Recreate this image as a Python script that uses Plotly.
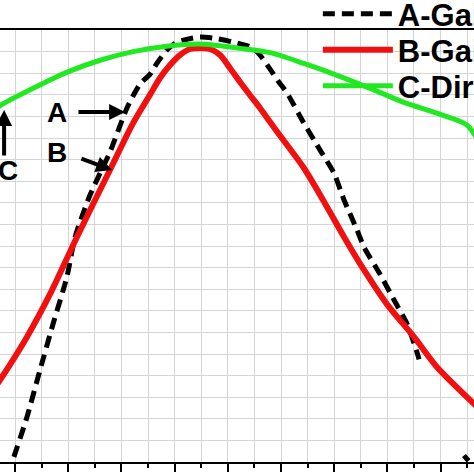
import plotly.graph_objects as go

# --- data (x: minor grid units, y: grid units) ---
# curve A fades out below ~y=5 on the right; only the last dash near the axis is visible
a_x = [-0.26, -0.08, 0.45, 0.94, 1.43, 1.95, 2.26, 2.82, 3.57, 4.21, 4.70, 5.08, 5.34, 5.71,
       6.09, 6.69, 6.95, 7.44, 8.20, 8.95, 9.21, 9.59, 9.89, 10.23, 10.86, 11.47, 11.99,
       12.37, 12.86, 13.12, 13.72, 14.25, 14.74, 15.11, 15.19, None, 16.88, 17.05]
a_y = [-0.60, 0.09, 2.08, 4.26, 6.39, 8.56, 10.42, 12.36, 14.35, 16.39, 17.50, 17.96, 18.47, 19.07,
       19.44, 19.63, 19.68, 19.63, 19.44, 19.17, 18.84, 18.19, 17.64, 17.08, 15.69, 14.44, 13.38,
       12.13, 10.74, 9.95, 8.70, 7.50, 6.39, 5.09, 4.75, None, 0.30, 0.05]

b_x = [-0.70, -0.56, 0.45, 1.32, 2.33, 3.57, 4.44, 5.08, 5.45, 5.83, 6.20, 6.58, 6.95, 7.33,
       7.71, 8.08, 8.46, 8.83, 9.21, 9.59, 9.89, 10.86, 11.73, 12.37, 13.12, 13.98, 15.00,
       15.86, 17.26, 17.86]
b_y = [3.55, 3.80, 5.79, 7.78, 10.42, 13.52, 15.69, 17.01, 17.78, 18.38, 18.84, 19.12, 19.17, 19.12,
       18.84, 18.24, 17.59, 16.99, 16.39, 15.74, 15.23, 13.61, 11.81, 10.42, 8.89, 7.31, 5.79,
       4.40, 2.69, 2.00]

c_x = [-0.70, -0.56, 0.68, 1.96, 3.20, 4.44, 5.71, 6.95, 8.46, 9.59, 10.86, 12.11, 13.35,
       14.62, 15.86, 16.99, 17.40]
c_y = [16.35, 16.50, 17.30, 18.05, 18.60, 19.00, 19.25, 19.35, 19.15, 18.95, 18.45, 17.90, 17.30,
       16.65, 16.15, 15.60, 14.90]

names = ['A-Gain', 'B-Gain', 'C-Dir-Gain']

fig = go.Figure()
fig.add_trace(go.Scatter(x=a_x, y=a_y, mode='lines', name=names[0], legend='legend',
                         line=dict(color='black', width=5, dash='12px,7px',
                                   shape='spline', smoothing=0.6)))
fig.add_trace(go.Scatter(x=b_x, y=b_y, mode='lines', name=names[1], legend='legend2',
                         line=dict(color='#f01010', width=6, shape='spline', smoothing=0.8)))
fig.add_trace(go.Scatter(x=c_x, y=c_y, mode='lines', name=names[2], legend='legend3',
                         line=dict(color='#22e822', width=5, shape='spline', smoothing=0.8)))

# labels and arrows
lab_font = dict(family='Liberation Sans', size=28, color='black', weight='bold')
for txt, lx, ly in [('A', 1.58, 16.2), ('B', 1.58, 14.35), ('C', -0.26, 13.5)]:
    fig.add_annotation(x=lx, y=ly, text=txt, showarrow=False, font=lab_font)

arrows = [(4.14, 16.2, 2.33, 16.2), (3.65, 13.52, 2.44, 14.07), (-0.41, 16.3, -0.41, 14.12)]
for hx, hy, tx, ty in arrows:
    fig.add_annotation(x=hx, y=hy, ax=tx, ay=ty, axref='x', ayref='y', text='',
                       showarrow=True, arrowhead=2, arrowsize=0.8, arrowwidth=4,
                       arrowcolor='black', standoff=0, startstandoff=0)

leg_font = dict(family='Liberation Sans', size=31, color='black', weight='bold')
leg_common = dict(x=0.6706, xanchor='left', yanchor='top', bgcolor='rgba(0,0,0,0)',
                  itemwidth=70, font=leg_font)

fig.update_layout(
    width=474, height=474,
    margin=dict(l=0, r=0, t=30, b=12, autoexpand=False),
    paper_bgcolor='white', plot_bgcolor='white',
    showlegend=True,
    legend=dict(y=1.0995, **leg_common),
    legend2=dict(y=1.0162, **leg_common),
    legend3=dict(y=0.9329, **leg_common),
)

fig.update_xaxes(range=[-0.564, 17.256], tick0=0, dtick=2, ticks='outside', ticklen=8,
                 tickwidth=2, tickcolor='black', showticklabels=False,
                 showline=True, linecolor='black', linewidth=2, mirror=True,
                 showgrid=True, gridcolor='#d4d4d4', gridwidth=1.2, zeroline=False,
                 minor=dict(tick0=0, dtick=1, ticks='outside', ticklen=4, tickwidth=2,
                            tickcolor='black', showgrid=True, gridcolor='#d4d4d4', gridwidth=1.2))
fig.update_yaxes(range=[0, 20], dtick=1, showticklabels=False, showline=False,
                 showgrid=True, gridcolor='#d4d4d4', gridwidth=1.2, zeroline=False)

# page margin off so the 474x474 figure fills the window
fig.write_html("out.html", config={'displayModeBar': False},
               post_script="document.body.style.margin='0px';")
